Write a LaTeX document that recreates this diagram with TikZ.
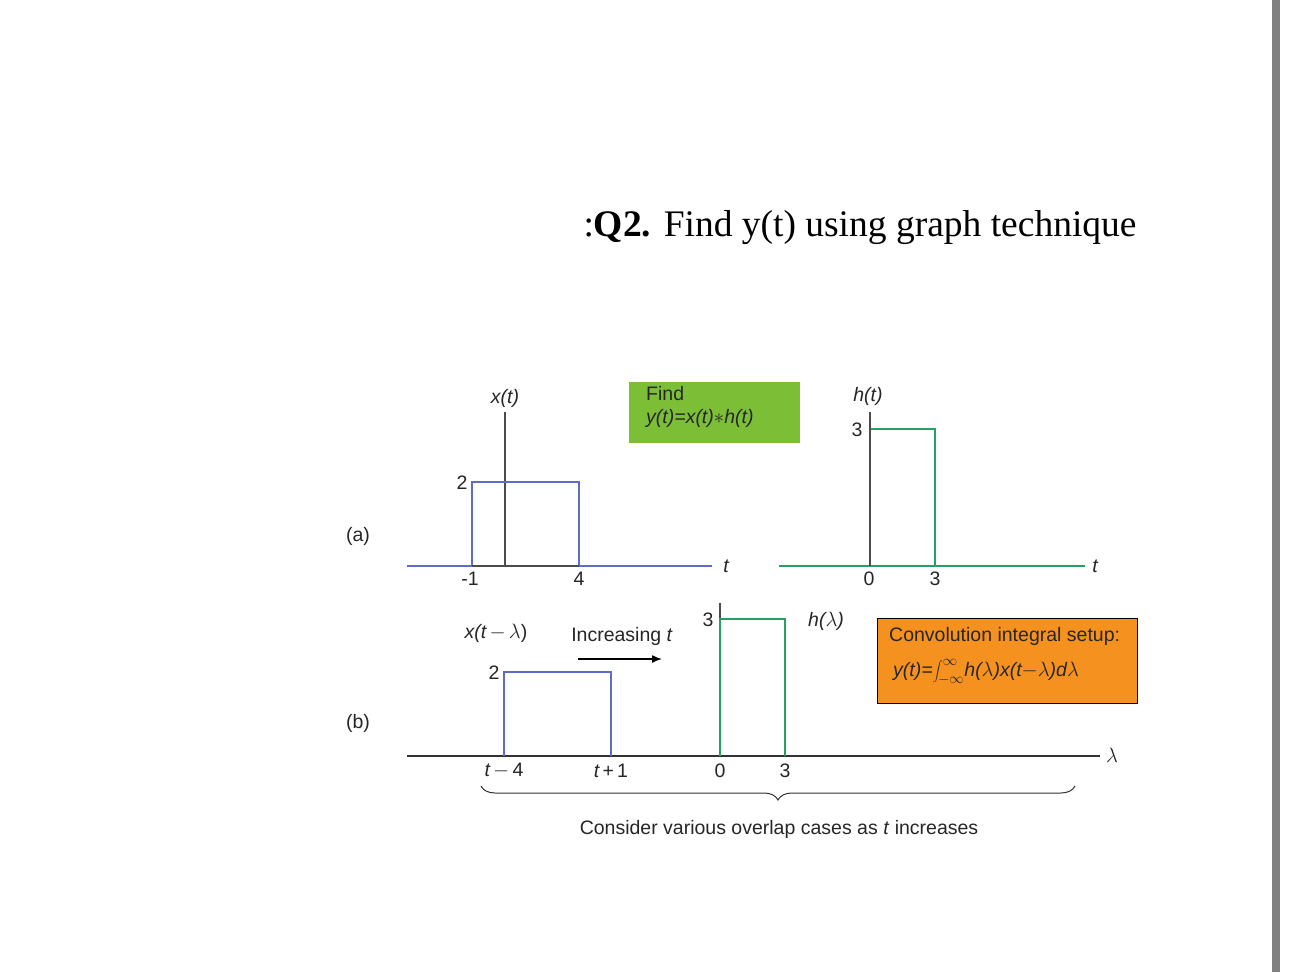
\documentclass[tikz,border=0pt]{standalone}
\usepackage{fontspec}
\setmainfont{Liberation Serif}
\newfontfamily\lab{Liberation Sans}
\usetikzlibrary{decorations.pathreplacing,arrows.meta}
\definecolor{bl}{RGB}{90,110,200}
\definecolor{gr}{RGB}{40,160,100}
\definecolor{lg}{RGB}{125,190,55}
\definecolor{og}{RGB}{245,145,30}
\tikzset{lb/.style={font=\lab\fontsize{19.5}{22}\selectfont, text=black!85, inner sep=1pt},
 it/.style={lb,font=\lab\itshape\fontsize{19.5}{22}\selectfont},
 sig/.style={line width=1.3pt}}
\begin{document}
\begin{tikzpicture}[x=1pt,y=-1pt]
\useasboundingbox (0,0) rectangle (1290,972);
\fill[white] (0,0) rectangle (1290,972);
\fill[gray] (1272,0) rectangle (1280,972);
\node[anchor=west,font=\fontsize{37.5}{42}\selectfont] (title) at (580,228) {:\textbf{Q2.} Find y(t) using graph technique};
% (a) x(t)
\draw[bl,sig] (407,566) coordinate (xa0) -- (712,566) coordinate (xa1);
\node[it] (tlab1) at (726,566) {t};
\draw[black!70,line width=1.3pt] (505,412) coordinate (xv0) -- (505,566) coordinate (xv1);
\draw[bl,sig] (472,566) -- (472,482) -- (579,482) -- (579,566);
\draw[black!70,line width=1.3pt] (472,566) -- (579,566);
\node[lb] (x2) at (462,483) {2};
\node[lb] (xm1) at (470,579) {-1};
\node[lb] (x4) at (579,579) {4};
\node[it] (xt) at (505,398) {x(t)};
\node[lb] (a) at (358,536) {(a)};
\node[fill=lg,minimum width=171pt,minimum height=61pt,anchor=north west,inner sep=0] (find) at (629,382) {};
\node[it,anchor=north west,align=left] (findt) at (645,385) {\upshape Find\\[1pt] y(t)=x(t)$\ast$h(t)};
% h(t)
\draw[gr,sig] (779,566) -- (1085,566);
\node[it] (tlab2) at (1095,566) {t};
\draw[black!70,line width=1.3pt] (870,412) -- (870,566);
\draw[gr,sig] (871,429) -- (935,429) -- (935,566);
\node[lb] (h3) at (857,430) {3};
\node[lb] (h0) at (869,579) {0};
\node[lb] (h3b) at (935,579) {3};
\node[it] (ht) at (868,396) {h(t)};
% (b)
\draw[black!80,line width=1.3pt] (407,756) -- (1100,756);
\node[lb] (lam) at (1112,755) {$\lambda$};
\draw[bl,sig] (504,756) -- (504,672) -- (611,672) -- (611,756);
\node[lb] (b2) at (494,673) {2};
\node[it] (tm4) at (504,771) {t\,\upshape$-$\,4};
\node[it] (tp1) at (611,771) {t\,\upshape+\,1};
\node[it] (xtl) at (496,633) {x(t\,\upshape$-$\,$\lambda$)};
\node[lb] (inc) at (622,636) {Increasing \textit{t}};
\draw[-{Latex[length=10pt,width=8pt]},line width=1.5pt] (578,659) -- (662,659);
\draw[black!70,line width=1.3pt] (720,603) -- (720,619);
\draw[gr,sig] (720,756) -- (720,619) -- (785,619) -- (785,756);
\node[lb] (b3) at (708,620) {3};
\node[lb] (b0) at (720,771) {0};
\node[lb] (b3b) at (785,771) {3};
\node[it] (hl) at (826,621) {h($\lambda$)};
\node[fill=og,draw=black,line width=1pt,minimum width=260pt,minimum height=85pt,anchor=north west,inner sep=0] (conv) at (877,618) {};
\node[lb,anchor=west] (convt) at (888,636) {Convolution integral setup:};
\node[it,anchor=west] (conve) at (892,672) {y(t)=$\displaystyle\int_{-\infty}^{\infty}$h($\lambda$)x(t$-\lambda$)d$\lambda$};
\node[lb] (b) at (358,723) {(b)};
\draw[decorate,decoration={brace,mirror,amplitude=14pt},black!80,line width=1pt] (481,786) -- (1075,786);
\node[lb] (cons) at (779,829) {Consider various overlap cases as \textit{t} increases};
\end{tikzpicture}
\end{document}
